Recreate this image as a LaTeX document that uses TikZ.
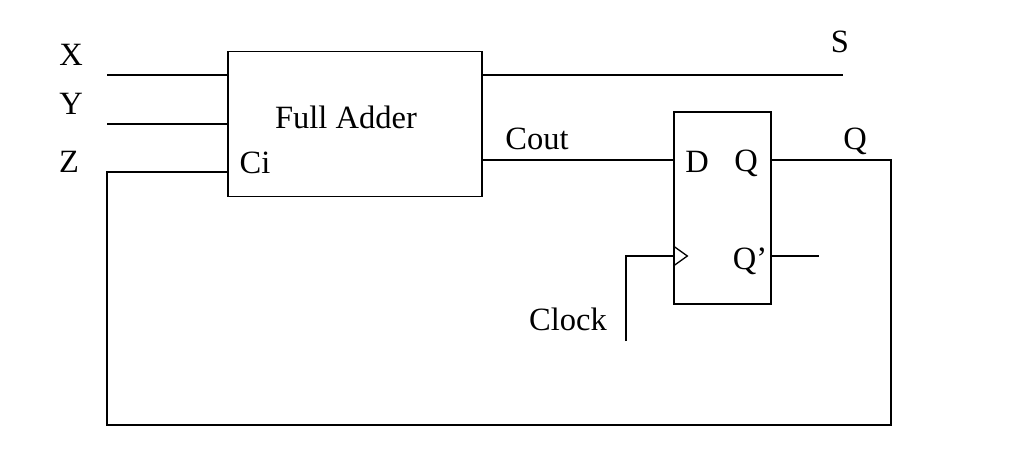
\documentclass[tikz,border=0pt]{standalone}
\usepackage{fontspec}
\setmainfont{Liberation Serif}
\usetikzlibrary{positioning}

\tikzset{
    wire/.style={line width=1.3pt},
    block/.style={draw, line width=1.3pt, inner sep=0pt},
    lbl/.style={font=\fontsize{32.5}{38}\selectfont, inner sep=0pt}
}

\begin{document}
\begin{tikzpicture}[x=1pt, y=-1pt]
    \useasboundingbox (0, 0) rectangle (1024, 455);

    \node[block, minimum width=254pt, minimum height=145pt] (adder) at (355, 124) {};
    \node[block, minimum width=97pt, minimum height=192pt] (dff) at (722.5, 208) {};

    \node[lbl] (adderlbl) at (346, 117) {Full Adder};
    \node[lbl] (cilbl) at (255, 163) {Ci};
    \node[lbl] (dlbl) at (697, 162) {D};
    \node[lbl] (qlbl) at (746, 163) {Q};
    \node[lbl] (qbarlbl) at (750, 261) {Q’};

    \node[lbl] (xlbl) at (71, 55) {X};
    \node[lbl] (ylbl) at (71, 104) {Y};
    \node[lbl] (zlbl) at (69, 162) {Z};
    \node[lbl] (slbl) at (840, 42) {S};
    \node[lbl] (coutlbl) at (537, 139) {Cout};
    \node[lbl] (qoutlbl) at (855, 141) {Q};
    \node[lbl] (clocklbl) at (568, 319) {Clock};

    % free ends of the wires
    \coordinate (xin) at (107, 75);
    \coordinate (yin) at (107, 124);
    \coordinate (sout) at (843, 75);
    \coordinate (cin) at (107, 172);
    \coordinate (cout) at (481, 160);
    \coordinate (clkin) at (626, 341);
    \coordinate (clk) at (626, 256);
    \coordinate (qbarout) at (819, 256);
    \coordinate (qout) at (891, 160);
    \coordinate (fbl) at (107, 425);
    \coordinate (fbr) at (891, 425);

    \draw[wire] (xin) -- (adder.west |- xin);
    \draw[wire] (yin) -- (adder.west |- yin);
    \draw[wire] (adder.east |- sout) -- (sout);
    \draw[wire] (cout) -- (dff.west |- cout);
    \draw[wire] (dff.east |- qbarout) -- (qbarout);
    \draw[wire] (clkin) -- (clk) -- (dff.west |- clk);

    % clock edge
    \draw[wire] ([shift={(0, -10)}] dff.west |- clk) -- ++(14, 10) -- ++(-14, 10);

    % feedback Q -> Ci
    \draw[wire] (dff.east |- qout) -- (qout) -- (fbr) -- (fbl) -- (cin) -- (adder.west |- cin);
\end{tikzpicture}
\end{document}
